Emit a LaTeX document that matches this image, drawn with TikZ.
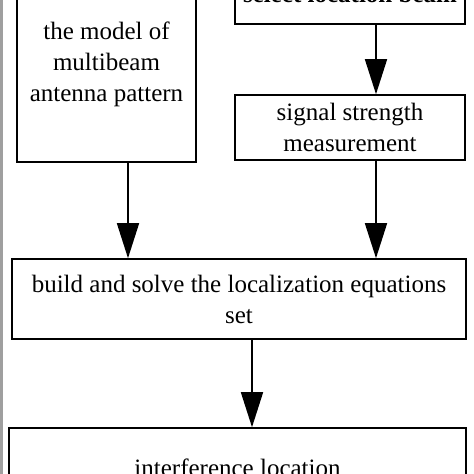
\documentclass[tikz,border=0pt]{standalone}
\usepackage{fontspec}
\setmainfont{Liberation Serif}
\usetikzlibrary{arrows.meta}
\begin{document}
\begin{tikzpicture}[x=1pt,y=-1pt,
  box/.style={draw=black,line width=1.6pt,fill=white,inner sep=0pt,align=center,
    font=\fontsize{25}{31}\selectfont},
  flow/.style={line width=1.6pt,-{Triangle[length=35pt,width=22pt]}}]
\useasboundingbox (0,0) rectangle (474,474);
\clip (0,0) rectangle (474,474);
\fill[white] (0,0) rectangle (474,474);
\fill[gray!75] (0,0) rectangle (2.5,474);
\node[box,minimum width=179pt,minimum height=196pt] (model) at (106.5,64)
  {the model of\\multibeam\\antenna pattern};
\node[box,minimum width=230pt,minimum height=60pt] (beam) at (350,-6)
  {\bfseries select location beam};
\node[box,minimum width=230pt,minimum height=65pt] (signal) at (350,127.5)
  {signal strength\\measurement};
\node[box,minimum width=454pt,minimum height=80pt] (build) at (239,299)
  {build and solve the localization equations\\set};
\node[box,minimum width=457pt,minimum height=80pt] (loc) at (237.5,468)
  {interference location};
\coordinate (xa) at (128,0);
\coordinate (xb) at (376,0);
\coordinate (xc) at (252,0);
\draw[flow] (beam.south -| xb) -- (signal.north -| xb);
\draw[flow] (signal.south -| xb) -- (build.north -| xb);
\draw[flow] (model.south -| xa) -- (build.north -| xa);
\draw[flow] (build.south -| xc) -- (loc.north -| xc);
\end{tikzpicture}
\end{document}
